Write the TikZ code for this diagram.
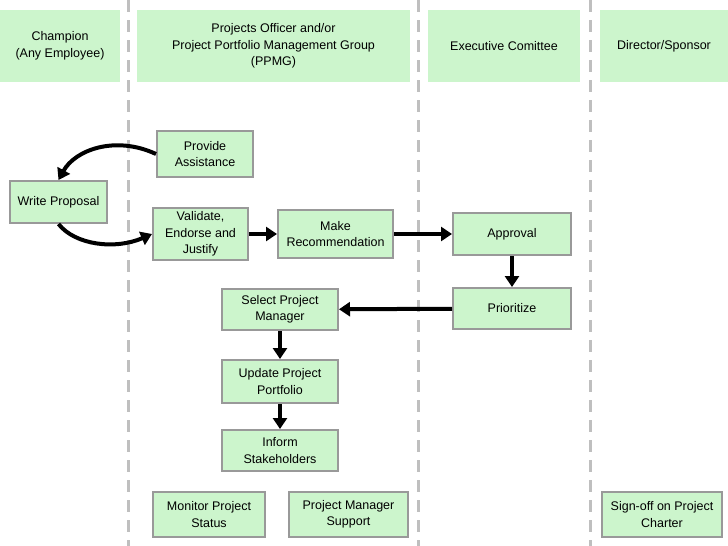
\documentclass[tikz,border=0pt]{standalone}
\usepackage{fontspec}
\setmainfont{Liberation Sans}
\usetikzlibrary{arrows.meta}
\definecolor{boxg}{HTML}{CCF5CC}
\definecolor{hdrg}{HTML}{CCF5CC}
\definecolor{bord}{HTML}{999999}
\begin{document}
\begin{tikzpicture}[x=1pt,y=-1pt,
  box/.style={draw=bord,line width=2pt,fill=boxg,align=center,font=\fontsize{12.5}{16.5}\selectfont,inner sep=0pt},
  hdr/.style={fill=hdrg,align=center,font=\fontsize{12.5}{16.5}\selectfont,inner sep=0pt},
  arr/.style={line width=4pt,-{Triangle[length=11pt,width=14pt]}},
  lane/.style={draw=gray!50,line width=3pt,dash pattern=on 12pt off 8pt}]
\useasboundingbox (0,0) rectangle (728,546);
\draw[lane] (128,0) -- (128,546);
\draw[lane] (418,0) -- (418,546);
\draw[lane] (590,0) -- (590,546);
\node[hdr,minimum width=120,minimum height=72] (h1) at (60,46) {Champion\\(Any Employee)};
\node[hdr,minimum width=273,minimum height=72] (h2) at (273.5,46) {Projects Officer and/or\\Project Portfolio Management Group\\(PPMG)};
\node[hdr,minimum width=152,minimum height=72] (h3) at (504,46) {Executive Comittee};
\node[hdr,minimum width=128,minimum height=72] (h4) at (664,46) {Director/Sponsor};
\node[box,minimum width=96,minimum height=46] (pa) at (205,154) {Provide\\Assistance};
\node[box,minimum width=97,minimum height=42] (wp) at (58.5,202) {Write Proposal};
\node[box,minimum width=95,minimum height=52] (va) at (200.5,234) {Validate,\\Endorse and\\Justify};
\node[box,minimum width=115,minimum height=48] (mr) at (335.5,234) {Make\\Recommendation};
\node[box,minimum width=118,minimum height=42] (ap) at (512,234) {Approval};
\node[box,minimum width=118,minimum height=41] (pr) at (512,308.5) {Prioritize};
\node[box,minimum width=116,minimum height=41] (sp) at (280,309.5) {Select Project\\Manager};
\node[box,minimum width=116,minimum height=43] (up) at (280,381.5) {Update Project\\Portfolio};
\node[box,minimum width=116,minimum height=41] (is) at (280,450.5) {Inform\\Stakeholders};
\node[box,minimum width=112,minimum height=45] (mp) at (209,514.5) {Monitor Project\\Status};
\node[box,minimum width=119,minimum height=45] (pm) at (348.5,514.5) {Project Manager\\Support};
\node[box,minimum width=120,minimum height=45] (so) at (662,514.5) {Sign-off on Project\\Charter};
\draw[arr] (pa.west) .. controls (115,135) and (75,150) .. (wp.north);
\draw[arr] (wp.south) .. controls (75,245) and (115,250) .. (va.west);
\draw[arr] (va) -- (mr);
\draw[arr] (mr) -- (ap);
\draw[arr] (ap) -- (pr);
\draw[arr] (pr) -- (sp);
\draw[arr] (sp) -- (up);
\draw[arr] (up) -- (is);
\end{tikzpicture}
\end{document}
